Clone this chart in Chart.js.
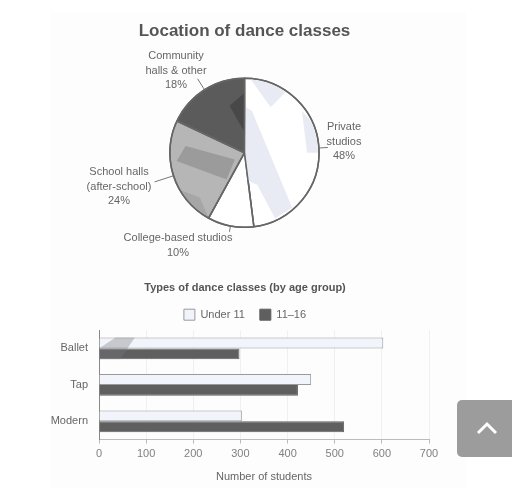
<!DOCTYPE html>
<html>
<head>
<meta charset="utf-8">
<script src="https://cdn.jsdelivr.net/npm/chart.js@4"></script>
<style>
  html, body { margin: 0; padding: 0; background: #fff; overflow: hidden; }
  #page { position: relative; width: 512px; height: 503px; }
  #panel { position: absolute; left: 50px; top: 12px; width: 416px; height: 476px; background: #fdfdfd; }
  canvas { position: absolute; left: 0; filter: blur(0.45px); }
  #pie-wrap { position: absolute; left: 0; top: 0; width: 490px; height: 270px; }
  #bar-wrap { position: absolute; left: 0; top: 275px; width: 490px; height: 215px; }
  #to-top { position: absolute; left: 457px; top: 400px; width: 55px; height: 57px; background: #9c9c9c; border-radius: 5px 0 0 5px; }
  #to-top svg { position: absolute; left: 19px; top: 21px; }
</style>
</head>
<body>
<div id="page">
  <div id="panel"></div>
  <div id="pie-wrap"><canvas id="chart-pie"></canvas></div>
  <div id="bar-wrap"><canvas id="chart-bars"></canvas></div>
  <div id="to-top"><svg width="22" height="14"><polyline points="2,12 11,3 20,12" fill="none" stroke="#fff" stroke-width="3"/></svg></div>
</div>
<script>
const font = "'Liberation Sans', Arial, sans-serif";
const textGrey = "#666";

// pie data
const pieLabels = [
  ["Private", "studios", "48%"],
  ["College-based studios", "10%"],
  ["School halls", "(after-school)", "24%"],
  ["Community", "halls & other", "18%"],
];
const pieShares = [48, 10, 24, 18];
const pieColors = ["#ffffff", "#ffffff", "#b6b6b6", "#5b5b5b"];

// bar data
const danceTypes = ["Ballet", "Tap", "Modern"];
const under11 = [603, 450, 303];
const age11to16 = [298, 422, 520];

// where each pie label goes and how long its leader is
const labelCentres = [[344, 127], [178, 238], [119, 172], [176, 56]];
const leaderLengths = [9, 6, 20, 13];

// scanned-page smudges, in units of the pie radius
const smudges = [
  { slice: 0, color: "#e8ebf4", pts: [[0.02, -0.61], [0.1, -0.56], [0.64, 0.74], [0.41, 0.88], [0.17, 0.43], [0, 0.36]] },
  { slice: 0, color: "#e8ebf4", pts: [[0.08, -0.99], [0.35, -0.61], [0.55, -0.81], [0.3, -0.99]] },
  { slice: 0, color: "#e8ebf4", pts: [[0.77, -0.56], [1, -0.3], [1, 0], [0.84, 0]] },
  { slice: 2, color: "#9b9b9b", pts: [[-0.79, -0.09], [-0.13, 0.09], [-0.24, 0.36], [-0.91, 0.11]] },
  { slice: 2, color: "#a6a6a6", pts: [[-1, 0.45], [-0.6, 0.6], [-0.47, 0.9], [-0.8, 0.8]] },
  { slice: 3, color: "#484848", pts: [[-0.2, -0.63], [0, -0.8], [0, -0.28], [-0.1, -0.45]] },
];

const pieExtras = {
  id: "pieExtras",
  // drawn over the slices, clipped to them, then the outlines go back on top
  afterDatasetsDraw(chart) {
    const c = chart.ctx;
    const arcs = chart.getDatasetMeta(0).data;
    smudges.forEach((s) => {
      const a = arcs[s.slice];
      c.save();
      c.beginPath();
      c.moveTo(a.x, a.y);
      c.arc(a.x, a.y, a.outerRadius - 1, a.startAngle, a.endAngle);
      c.closePath();
      c.clip();
      c.fillStyle = s.color;
      c.beginPath();
      s.pts.forEach((p, i) => {
        const px = a.x + p[0] * a.outerRadius;
        const py = a.y + p[1] * a.outerRadius;
        if (i === 0) c.moveTo(px, py);
        else c.lineTo(px, py);
      });
      c.closePath();
      c.fill();
      c.restore();
    });
    arcs.forEach((a, i) => {
      const mid = (a.startAngle + a.endAngle) / 2;
      c.strokeStyle = "#666";
      c.lineWidth = 1.5;
      // slice edge
      c.beginPath();
      c.moveTo(a.x, a.y);
      c.lineTo(a.x + Math.cos(a.startAngle) * a.outerRadius, a.y + Math.sin(a.startAngle) * a.outerRadius);
      c.stroke();
      // leader
      c.strokeStyle = "#777";
      c.lineWidth = 1;
      c.beginPath();
      c.moveTo(a.x + Math.cos(mid) * a.outerRadius, a.y + Math.sin(mid) * a.outerRadius);
      c.lineTo(a.x + Math.cos(mid) * (a.outerRadius + leaderLengths[i]), a.y + Math.sin(mid) * (a.outerRadius + leaderLengths[i]));
      c.stroke();
      // label
      c.fillStyle = textGrey;
      c.font = "11px " + font;
      c.textAlign = "center";
      c.textBaseline = "middle";
      pieLabels[i].forEach((line, j) => {
        c.fillText(line, labelCentres[i][0], labelCentres[i][1] + j * 14.5);
      });
    });
    c.beginPath();
    c.strokeStyle = "#666";
    c.lineWidth = 1.5;
    c.arc(arcs[0].x, arcs[0].y, arcs[0].outerRadius, 0, Math.PI * 2);
    c.stroke();
  },
};

new Chart(document.getElementById("chart-pie").getContext("2d"), {
  type: "pie",
  data: {
    labels: pieLabels.map((l) => l.join(" ")),
    datasets: [
      {
        data: pieShares,
        backgroundColor: pieColors,
        borderColor: "#666",
        borderWidth: 1.5,
      },
    ],
  },
  options: {
    responsive: true,
    maintainAspectRatio: false,
    animation: false,
    layout: { padding: { top: 21, bottom: 42, right: 1 } },
    plugins: {
      legend: { display: false },
      tooltip: { enabled: false },
      title: {
        display: true,
        text: "Location of dance classes",
        color: "#555",
        font: { size: 17, weight: "bold", family: font },
        padding: { top: 0, bottom: 36 },
      },
    },
  },
  plugins: [pieExtras],
});

const barSmudge = {
  id: "barSmudge",
  afterDatasetsDraw(chart) {
    const c = chart.ctx;
    const x = chart.scales.x;
    const top = chart.getDatasetMeta(0).data[0];
    const low = chart.getDatasetMeta(1).data[0];
    const yTop = top.y - top.height / 2;
    const yLow = low.y + low.height / 2;
    c.save();
    c.fillStyle = "rgba(120,120,125,0.35)";
    c.beginPath();
    c.moveTo(x.getPixelForValue(35), yTop);
    c.lineTo(x.getPixelForValue(76), yTop);
    c.lineTo(x.getPixelForValue(45), yLow);
    c.lineTo(x.getPixelForValue(0), yLow);
    c.lineTo(x.getPixelForValue(0), top.y + top.height / 2);
    c.closePath();
    c.fill();
    c.restore();
  },
};

new Chart(document.getElementById("chart-bars").getContext("2d"), {
  type: "bar",
  data: {
    labels: danceTypes,
    datasets: [
      {
        label: "Under 11",
        data: under11,
        backgroundColor: "#f1f4fb",
        borderColor: "#9a9a9a",
        borderWidth: 1,
        categoryPercentage: 0.6,
        barPercentage: 1,
      },
      {
        label: "11–16",
        data: age11to16,
        backgroundColor: "#5f5f5f",
        borderColor: "#5f5f5f",
        borderWidth: 1,
        categoryPercentage: 0.6,
        barPercentage: 1,
      },
    ],
  },
  options: {
    indexAxis: "y",
    responsive: true,
    maintainAspectRatio: false,
    animation: false,
    layout: { padding: { top: 6, bottom: 6 } },
    plugins: {
      tooltip: { enabled: false },
      title: {
        display: true,
        text: "Types of dance classes (by age group)",
        color: "#555",
        font: { size: 11, weight: "bold", family: font },
        padding: { top: 0, bottom: 0 },
      },
      legend: {
        display: true,
        position: "top",
        labels: {
          boxWidth: 11,
          boxHeight: 11,
          color: textGrey,
          font: { size: 11, family: font },
          padding: 15,
        },
      },
    },
    scales: {
      x: {
        min: 0,
        max: 700,
        ticks: {
          stepSize: 100,
          color: "#808080",
          font: { size: 11, family: font },
          padding: 4,
          maxRotation: 0,
        },
        border: { color: "#bbb" },
        grid: { color: "#f0f0f0", tickColor: "#bbb", tickLength: 4 },
        title: {
          display: true,
          text: "Number of students",
          color: textGrey,
          font: { size: 11, family: font },
          padding: { top: 6, bottom: 0 },
        },
      },
      y: {
        afterFit: (scale) => {
          scale.width = 99;
        },
        ticks: {
          color: textGrey,
          font: { size: 11, family: font },
          padding: 5,
        },
        border: { color: "#888" },
        grid: {
          drawOnChartArea: false,
          tickLength: 6,
          tickColor: (ctx) => (ctx.index === danceTypes.length ? "#bbb" : "transparent"),
        },
      },
      // empty axis on the right, only there to keep the plot narrower than the title row
      spacer: {
        axis: "y",
        position: "right",
        afterFit: (scale) => {
          scale.width = 61;
        },
        ticks: { display: false },
        grid: { display: false },
        border: { display: false },
      },
    },
  },
  plugins: [barSmudge],
});
</script>
</body>
</html>
